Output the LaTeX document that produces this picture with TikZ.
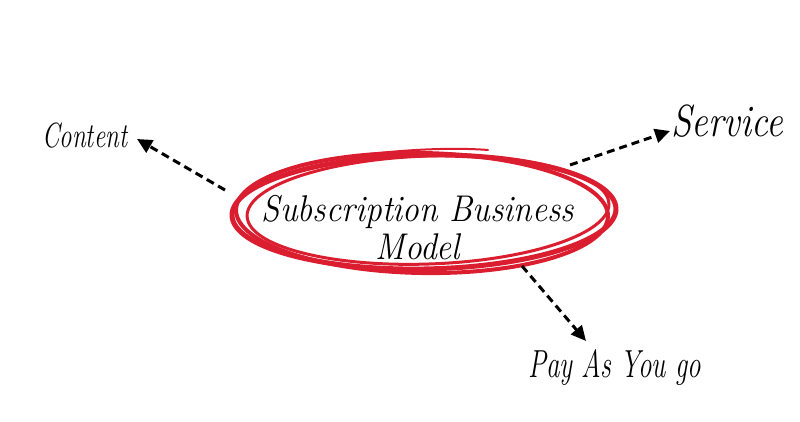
\documentclass[tikz,border=0pt]{standalone}
\usetikzlibrary{arrows.meta}
\usepackage{graphicx}
\definecolor{markred}{RGB}{218,30,48}
\begin{document}
\begin{tikzpicture}[x=1pt,y=-1pt,
  hand/.style={text=black, inner sep=0pt},
  redstroke/.style={draw=markred, line cap=round},
  dasharrow/.style={line width=3pt, dash pattern=on 8pt off 5pt, -{Triangle[length=15pt,width=14pt]}, black}]
\useasboundingbox (0,0) rectangle (800,422);
\fill[white] (0,0) rectangle (800,422);
% red marker ellipses
\draw[redstroke, line width=5pt] (424,212) ellipse [x radius=192, y radius=57, rotate=1];
\draw[redstroke, line width=4pt] (422,213) ellipse [x radius=186, y radius=60, rotate=-1];
\draw[redstroke, line width=3pt] (428,210) ellipse [x radius=181, y radius=54, rotate=2];
\draw[redstroke, line width=2pt] (300,165) .. controls (380,149) and (450,147) .. (488,150);
% texts
\node[hand, align=center] (center) at (418,228) {\scalebox{1.08}[1.2]{\itshape\fontsize{31}{26}\selectfont\shortstack{Subscription Business\\[1pt]Model}}};
\node[hand, anchor=west] (content) at (42,136) {\scalebox{1}[1.4]{\itshape\fontsize{25}{30}\selectfont Content}};
\node[hand, anchor=west] (service) at (671,121) {\scalebox{1.03}[1.25]{\itshape\fontsize{36}{38}\selectfont Service}};
\node[hand, anchor=west] (pay) at (528,368) {\scalebox{1}[1.45]{\itshape\fontsize{27}{30}\selectfont Pay As You go}};
% connector coordinates
\coordinate (cs) at (225,190);
\coordinate (ct) at (137,139);
\coordinate (ss) at (570,165);
\coordinate (st) at (670,131);
\coordinate (ps) at (522,266);
\coordinate (pt) at (586,341);
\draw[dasharrow] (cs) -- (ct);
\draw[dasharrow] (ss) -- (st);
\draw[dasharrow] (ps) -- (pt);
\end{tikzpicture}
\end{document}
